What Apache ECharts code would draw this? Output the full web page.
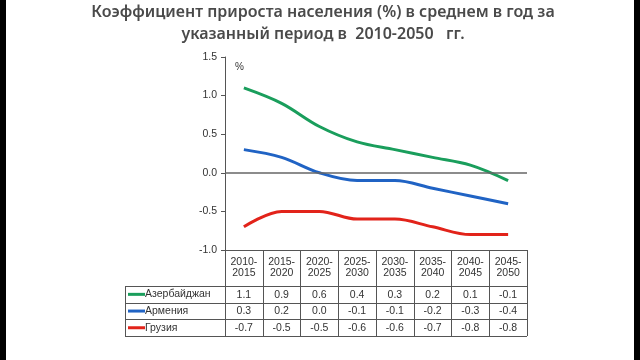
<!DOCTYPE html>
<html>
<head>
<meta charset="utf-8">
<script src="https://cdn.jsdelivr.net/npm/echarts@6/dist/echarts.min.js"></script>
<style>
html,body{margin:0;padding:0;background:#fff;}
#c{width:640px;height:360px;}
</style>
</head>
<body>
<div id="c"></div>
<script>
const titleLines = ['Коэффициент прироста населения (%) в среднем в год за', 'указанный период в  2010-2050   гг.'];
const categories = ['2010-2015','2015-2020','2020-2025','2025-2030','2030-2035','2035-2040','2040-2045','2045-2050'];
const seriesNames = ['Азербайджан','Армения','Грузия'];
const azerbaijan = [1.1, 0.9, 0.6, 0.4, 0.3, 0.2, 0.1, -0.1];
const armenia = [0.3, 0.2, 0.0, -0.1, -0.1, -0.2, -0.3, -0.4];
const georgia = [-0.7, -0.5, -0.5, -0.6, -0.6, -0.7, -0.8, -0.8];
const yMin = -1.0, yMax = 1.5, yStep = 0.5;
const unitLabel = '%';

const colors = ['#1a9e5c', '#2063c4', '#e2231a'];
const allData = [azerbaijan, armenia, georgia];
const lineGray = '#555';
const textColor = '#333';

const chart = echarts.init(document.getElementById('c'));
const option = {
  backgroundColor: '#fff',
  animation: false,
  title: {
    text: titleLines.join('\n'),
    left: 318, top: -4, textAlign: 'center',
    textStyle: { fontFamily: 'Noto Sans', fontWeight: 600, fontSize: 16, color: '#4a4a4a', lineHeight: 22 }
  },
  grid: { left: 225, right: 113, top: 57, bottom: 110 },
  xAxis: {
    type: 'category', data: categories, boundaryGap: true,
    axisLine: { show: true, onZero: false, lineStyle: { color: lineGray, width: 1 } },
    axisTick: { show: true, length: 86, lineStyle: { color: lineGray, width: 1 } },
    axisLabel: {
      margin: 7, color: textColor, fontFamily: 'Liberation Sans', fontSize: 10.5, lineHeight: 11,
      formatter: v => v.replace('-', '-\n')
    }
  },
  yAxis: {
    type: 'value', min: yMin, max: yMax, interval: yStep,
    axisLine: { show: true, lineStyle: { color: lineGray, width: 1 } },
    axisTick: { show: true, length: 4, lineStyle: { color: lineGray } },
    splitLine: { show: false },
    axisLabel: { color: textColor, fontFamily: 'Liberation Sans', fontSize: 10.5, margin: 8, formatter: v => v.toFixed(1) }
  },
  series: seriesNames.map((n, k) => ({
    name: n, type: 'line', data: allData[k], smooth: 0.35, showSymbol: false, symbol: 'none',
    lineStyle: { color: colors[k], width: 3 }, itemStyle: { color: colors[k] },
    markLine: k === 0 ? {
      silent: true, symbol: 'none', label: { show: false },
      lineStyle: { color: '#666', width: 1.5, type: 'solid' },
      data: [{ yAxis: 0 }]
    } : undefined,
    z: 3
  }))
};
chart.setOption(option);

// data table below the axis
const x0 = chart.convertToPixel({ xAxisIndex: 0 }, 0);
const x1 = chart.convertToPixel({ xAxisIndex: 0 }, 1);
const colW = x1 - x0;
const plotLeft = x0 - colW / 2;
const plotRight = chart.convertToPixel({ xAxisIndex: 0 }, categories.length - 1) + colW / 2;
const axisY = chart.convertToPixel({ yAxisIndex: 0 }, yMin);
const topY = chart.convertToPixel({ yAxisIndex: 0 }, yMax);
const headerH = 36, rowH = 16.7, tableLeft = 125;
const graphics = [];
const ln = (xa, ya, xb, yb) => ({ type: 'line', silent: true, shape: { x1: xa, y1: ya, x2: xb, y2: yb }, style: { stroke: lineGray, lineWidth: 1 } });
for (let r = 0; r <= seriesNames.length; r++) {
  const y = Math.round(axisY + headerH + r * rowH) + 0.5;
  graphics.push(ln(tableLeft, y, plotRight, y));
}
graphics.push(ln(tableLeft + 0.5, axisY + headerH, tableLeft + 0.5, axisY + headerH + seriesNames.length * rowH));
seriesNames.forEach((n, k) => {
  const cy = axisY + headerH + (k + 0.5) * rowH;
  graphics.push({ type: 'line', silent: true, shape: { x1: tableLeft + 3, y1: cy, x2: tableLeft + 20, y2: cy }, style: { stroke: colors[k], lineWidth: 3 } });
  graphics.push({ type: 'text', silent: true, x: tableLeft + 20, y: cy, style: { text: n, fill: textColor, font: '10.5px "Liberation Sans"', textVerticalAlign: 'middle', textAlign: 'left' } });
  allData[k].forEach((v, i) => {
    const cx = chart.convertToPixel({ xAxisIndex: 0 }, i);
    graphics.push({ type: 'text', silent: true, x: cx, y: cy + 0.5, style: { text: v.toFixed(1), fill: textColor, font: '10.5px "Liberation Sans"', textAlign: 'center', textVerticalAlign: 'middle' } });
  });
});
graphics.push({ type: 'text', silent: true, x: plotLeft + 10, y: topY + 5, style: { text: unitLabel, fill: textColor, font: '10px "Liberation Sans"', textAlign: 'left', textVerticalAlign: 'top' } });
// video frame borders
graphics.push({ type: 'rect', silent: true, shape: { x: 0, y: 0, width: 6, height: 360 }, style: { fill: '#000' } });
graphics.push({ type: 'rect', silent: true, shape: { x: 634, y: 0, width: 6, height: 360 }, style: { fill: '#000' } });
chart.setOption({ graphic: graphics });
</script>
</body>
</html>
